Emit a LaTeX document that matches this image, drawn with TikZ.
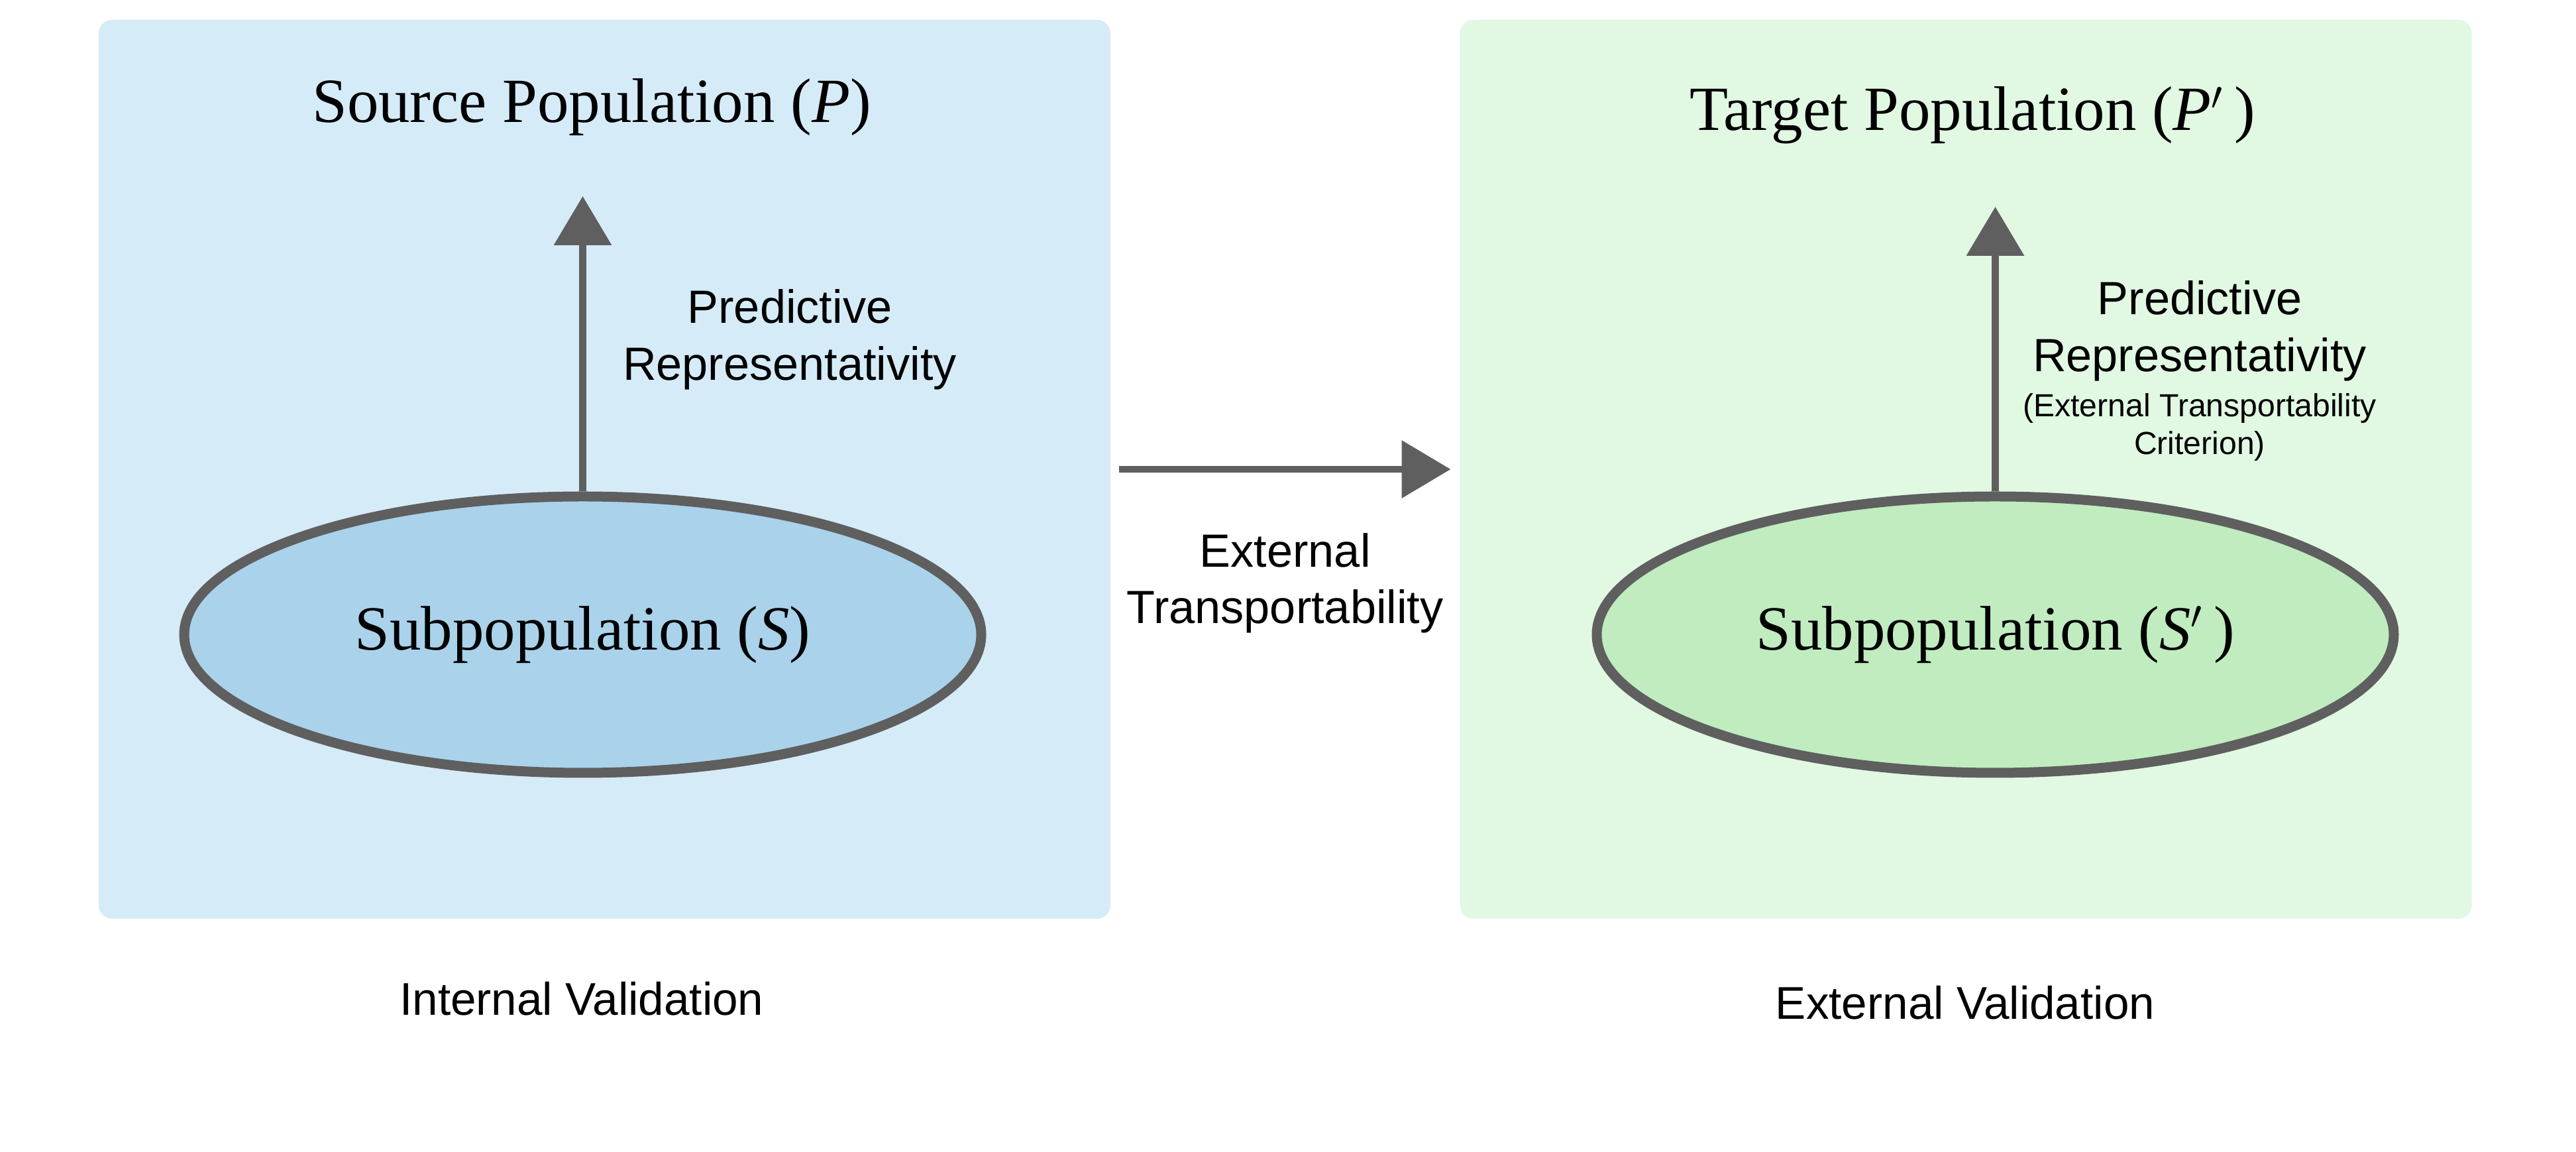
\documentclass[tikz,border=0pt]{standalone}
\usepackage{fontspec}
\setmainfont{Liberation Serif}
\setsansfont{Liberation Sans}
\usetikzlibrary{arrows.meta,positioning,shapes.geometric}
\definecolor{edgegray}{HTML}{5F5F5F}
\definecolor{srcfill}{HTML}{D6EBF8}
\definecolor{srcsubfill}{HTML}{AAD2EB}
\definecolor{tgtfill}{HTML}{E1F8E3}
\definecolor{tgtsubfill}{HTML}{C0ECC0}

\begin{document}
\begin{tikzpicture}[
    popbox/.style={rectangle, rounded corners=0.2cm, minimum width=15.27cm, minimum height=13.56cm, inner sep=0pt, outer sep=0pt},
    subpop/.style={ellipse, draw=edgegray, line width=0.15cm, minimum width=12.03cm, minimum height=4.17cm, inner sep=0pt, font=\fontsize{27}{32}\selectfont},
    poptitle/.style={anchor=base, font=\fontsize{27}{32}\selectfont},
    desc/.style={inner sep=0pt, align=center, font=\sffamily\fontsize{20}{24.4}\selectfont},
    note/.style={inner sep=0pt, align=center, font=\sffamily\fontsize{13.7}{16.2}\selectfont},
    phase/.style={anchor=base, font=\sffamily\fontsize{19.7}{24}\selectfont},
    flow/.style={-{Triangle[length=0.74cm, width=0.85cm]}, draw=edgegray, line width=0.105cm}
]
\useasboundingbox (0,0) rectangle (38.88,17.38);

% Population boxes
\node[popbox, fill=srcfill] (srcbox) at (9.125, 10.30) {};
\node[popbox, fill=tgtfill] (tgtbox) at (29.67, 10.30) {};

% Subpopulations
\node[subpop, fill=srcsubfill] (srcsub) at (8.795, 7.805) {Subpopulation (\textit{S})};
\node[subpop, fill=tgtsubfill] (tgtsub) at (30.115, 7.805) {Subpopulation (\textit{S}$'$\,)};

% Titles
\node[poptitle] (srctitle) at (8.93, 15.53) {Source Population (\textit{P})};
\node[poptitle] (tgttitle) at (29.77, 15.41) {Target Population (\textit{P}$'$\,)};

% Predictive representativity arrows
\coordinate (srctip) at (8.795, 14.42);
\coordinate (tgttip) at (30.115, 14.26);
\draw[flow] (srcsub) -- (srctip);
\draw[flow] (tgtsub) -- (tgttip);

\node[desc] (srcpred) at (11.92, 12.26) {Predictive\\Representativity};
\node[desc] (tgtpred) at (33.20, 12.39) {Predictive\\Representativity};
\node[note, below=0.18cm of tgtpred] (tgtcrit) {(External Transportability\\Criterion)};

% Transport between populations
\draw[flow, shorten <=0.13cm, shorten >=0.14cm] (srcbox) -- (tgtbox)
    node[desc, midway, below=0.91cm] (transport) {External\\Transportability};

% Labels
\node[phase] (internal) at (8.78, 2.06) {Internal Validation};
\node[phase] (external) at (29.66, 2.00) {External Validation};

\end{tikzpicture}
\end{document}
